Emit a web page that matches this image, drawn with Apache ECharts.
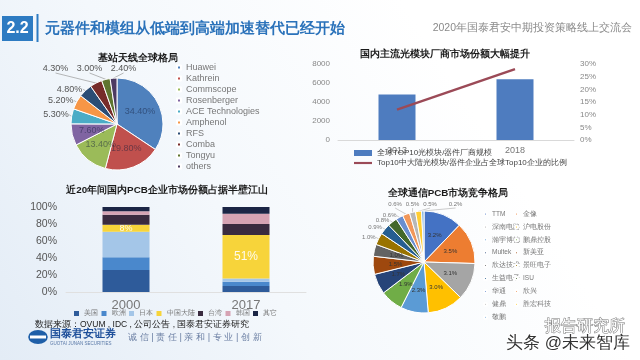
<!DOCTYPE html>
<html><head><meta charset="utf-8">
<script src="https://cdn.jsdelivr.net/npm/echarts@6/dist/echarts.min.js"></script>
<style>html,body{margin:0;padding:0;background:#fff}#c{width:640px;height:360px}</style>
</head><body><div id="c"></div>
<script>
// ---- Chart 1: 基站天线全球格局 ----
const antennaVendors = ['Huawei','Kathrein','Commscope','Rosenberger','ACE Technologies','Amphenol','RFS','Comba','Tongyu','others'];
const antennaShare = [34.4,19.8,13.4,7.6,5.3,5.2,4.8,4.3,3.0,2.4];
// ---- Chart 2: 国内主流光模块厂商市场份额大幅提升 ----
const moduleYears = ['2013','2018'];
const moduleScale = [4800, 6400];
const mainlandRatio = [0.12, 0.28];
// ---- Chart 3: 近20年间国内PCB企业市场份额占据半壁江山 ----
const pcbYears = ['2000','2017'];
const pcbRegions = ['美国','欧洲','日本','中国大陆','台湾','韩国','其它'];
const pcbShare2000 = [26,15,30,8,12,4,5];
const pcbShare2017 = [7,5,4,51,13,12,8];
// ---- Chart 4: 全球通信PCB市场竞争格局 ----
const commPcbCompanies = ['TTM','金像','深南电路','沪电股份','瀚宇博德','鹏鼎控股','Multek','新美亚','欣达技术','景旺电子','生益电子','ISU','华通','欣兴','健鼎','胜宏科技','敬鹏'];
const commPcbShare = [3.2,3.5,3.1,3.0,2.3,1.9,1.7,1.5,1.0,1.0,0.9,0.8,0.6,0.6,0.5,0.5,0.2];

const antennaColors = ['#4F81BD','#C0504D','#9BBB59','#8064A2','#4BACC6','#F79646','#2C4D75','#772C2A','#5F7530','#4D3B62'];
const officeColors = ['#4472C4','#ED7D31','#A5A5A5','#FFC000','#5B9BD5','#70AD47','#264478','#9E480E','#636363','#997300','#255E91','#43682B','#698ED0','#F1975A','#B7B7B7','#FFCD33','#7CAFDD'];
const pcbRegionColors = ['#2E5B9A','#4A88CC','#A4C6E8','#F7D43A','#3A2B3F','#D6A3B3','#1B2545'];

const PIE1 = {cx:117, cy:124, r:46};
const PIE4 = {cx:424, cy:262, r:51};

// label placement for outside pie labels, derived from each slice's mid angle
function pieOuterLayout(P, values, sideList, topList, rowY, topX) {
  const total = values.reduce((a,b)=>a+b,0);
  const pts = []; let acc = 0;
  values.forEach(v=>{
    const a = (acc + v/2)/total*2*Math.PI; acc += v;
    pts.push([P.cx + P.r*Math.sin(a), P.cy - P.r*Math.cos(a)]);
  });
  const topXs = topList.map(i=>pts[i][0]);
  return function(p){
    const i = p.dataIndex, pt = pts[i];
    if (sideList.indexOf(i) >= 0) {
      return {x:pt[0]-3, y:pt[1]-1.5, align:'right', verticalAlign:'middle',
        labelLinePoints:[[pt[0],pt[1]],[pt[0]-1.5,pt[1]-0.8],[pt[0]-2.5,pt[1]-1.5]]};
    }
    const k = topList.indexOf(i);
    if (k >= 0) {
      const x = topX(k, topXs);
      return {x:x, y:rowY, align:'center', verticalAlign:'middle',
        labelLinePoints:[[pt[0],pt[1]],[x,rowY+4],[x,rowY+4]]};
    }
  };
}

const chart = echarts.init(document.getElementById('c'));

const antennaData = antennaVendors.map((n,i)=>({
  name:n, value:antennaShare[i],
  itemStyle:{color:antennaColors[i]},
  label: i<4 ? {position:'inside', color:'rgba(20,30,60,0.5)', fontSize:9} : {position:'outside', color:'#555', fontSize:9},
  labelLine:{show:i>=4}
}));
const commData = commPcbCompanies.map((n,i)=>({
  name:n, value:commPcbShare[i],
  itemStyle:{color:officeColors[i]},
  label: i<9 ? {position:'inside', color:'#333', fontSize:6} : {position:'outside', color:'#777', fontSize:6},
  labelLine:{show:i>=9}
}));
const ratioData = mainlandRatio.map((v,i)=>({
  value:v,
  label: i===0 ? {position:'inside', color:'#fff', fontSize:9} : {position:'right', color:'#555', fontSize:9, offset:[2,0]}
}));
const pcbSeries = pcbRegions.map((r,i)=>({
  name:r, type:'bar', stack:'pcb', xAxisIndex:1, yAxisIndex:2,
  barWidth:47,
  itemStyle:{color:pcbRegionColors[i]},
  data:[pcbShare2000[i], pcbShare2017[i]].map((v,j)=>({
    value:v,
    label: r==='中国大陆' ? {show:true, position:'inside', color:'rgba(255,255,255,0.9)', fontSize: j===0?9:12, formatter:'{c}%'} : {show:false}
  }))
}));

const titleStyle = {fontSize:9.8, fontWeight:'bold', color:'#1a1a1a'};
const grayLegend = names => names.map(n=>({name:n, textStyle:{color:'#777'}}));

chart.setOption({
  animation:false,
  backgroundColor:'#fff',
  title:[
    {text:'基站天线全球格局', left:138, top:53, padding:0, textAlign:'center', textStyle:titleStyle},
    {text:'国内主流光模块厂商市场份额大幅提升', left:445, top:49, padding:0, textAlign:'center', textStyle:titleStyle},
    {text:'近20年间国内PCB企业市场份额占据半壁江山', left:167, top:185, padding:0, textAlign:'center', textStyle:titleStyle},
    {text:'全球通信PCB市场竞争格局', left:448, top:188, padding:0, textAlign:'center', textStyle:titleStyle}
  ],
  legend:[
    {data:grayLegend(antennaVendors), orient:'vertical', left:176, top:63, padding:0, itemWidth:4, itemHeight:4, itemGap:2, icon:'rect',
     textStyle:{fontSize:9, color:'#777'}},
    {data:[{name:'全球TOP10光模块/器件厂商规模', icon:'rect'},
           {name:'Top10中大陆光模块/器件企业占全球Top10企业的比例', icon:'path://M0,0H20V2.4H0Z'}],
     orient:'vertical', left:354, top:149, padding:0,
     itemWidth:18, itemHeight:6, itemGap:2, textStyle:{fontSize:8, color:'#444'}},
    {data:grayLegend(pcbRegions), left:74, top:310, padding:0, itemWidth:5, itemHeight:5, itemGap:3.5, icon:'rect', textStyle:{fontSize:7, color:'#666'}},
    {data:grayLegend(commPcbCompanies.filter((n,i)=>i%2===0)), orient:'vertical', left:483, top:210.5, padding:0, itemWidth:3, itemHeight:3, itemGap:5.9, icon:'circle',
     textStyle:{fontSize:6.5, color:'#888'}},
    {data:grayLegend(commPcbCompanies.filter((n,i)=>i%2===1)), orient:'vertical', left:514, top:210.5, padding:0, itemWidth:3, itemHeight:3, itemGap:5.9, icon:'circle',
     textStyle:{fontSize:6.5, color:'#888'}}
  ],
  grid:[
    {left:338, width:236, top:64, height:76},
    {left:66, width:240, top:207, height:85}
  ],
  xAxis:[
    {gridIndex:0, type:'category', data:moduleYears, axisTick:{show:false},
     axisLine:{lineStyle:{color:'#d9d9d9'}}, axisLabel:{fontSize:9, color:'#777', margin:6}},
    {gridIndex:1, type:'category', data:pcbYears, axisTick:{show:false},
     axisLine:{lineStyle:{color:'#e0e0e0'}}, axisLabel:{fontSize:13, color:'#777', margin:7}}
  ],
  yAxis:[
    {gridIndex:0, type:'value', min:0, max:8000, interval:2000, splitLine:{show:false},
     axisLine:{show:false}, axisTick:{show:false}, axisLabel:{fontSize:8, color:'#888', margin:8, formatter:v=>String(v)}},
    {gridIndex:0, type:'value', min:0, max:0.3, interval:0.05, position:'right', splitLine:{show:false},
     axisLine:{show:false}, axisTick:{show:false},
     axisLabel:{fontSize:8, color:'#888', margin:6, formatter:v=>Math.round(v*100)+'%'}},
    {gridIndex:1, type:'value', min:0, max:100, interval:20, splitLine:{show:false},
     axisLine:{show:false}, axisTick:{show:false},
     axisLabel:{fontSize:10.5, color:'#555', margin:9, formatter:'{value}%'}}
  ],
  series:[
    {name:'基站天线', type:'pie', center:[PIE1.cx,PIE1.cy], radius:PIE1.r, startAngle:90, clockwise:true,
     data:antennaData, itemStyle:{borderColor:'#fff', borderWidth:1},
     label:{formatter:p=>p.value.toFixed(2)+'%'},
     labelLine:{length:6, length2:8, lineStyle:{color:'#999', width:0.7}},
     labelLayout: pieOuterLayout(PIE1, antennaShare, [4,5,6], [7,8,9], 69,
        (k,xs)=>xs[xs.length-1] + 10 - (xs.length-1-k)*34)},
    {name:'全球TOP10光模块/器件厂商规模', type:'bar', xAxisIndex:0, yAxisIndex:0, barWidth:37,
     itemStyle:{color:'#4E7CBF'}, data:moduleScale},
    {name:'Top10中大陆光模块/器件企业占全球Top10企业的比例', type:'line', xAxisIndex:0, yAxisIndex:1,
     symbol:'none', lineStyle:{color:'#9B4A57', width:2.5}, itemStyle:{color:'#9B4A57'},
     label:{show:true, formatter:p=>Math.round(p.value*100)+'%'}, data:ratioData, z:5},
    ...pcbSeries,
    {name:'通信PCB', type:'pie', center:[PIE4.cx,PIE4.cy], radius:PIE4.r, startAngle:90, clockwise:true,
     data:commData, itemStyle:{borderColor:'#fff', borderWidth:1},
     label:{formatter:p=>p.value.toFixed(1)+'%'},
     labelLine:{length:6, length2:6, lineStyle:{color:'#aaa', width:0.6}},
     labelLayout: pieOuterLayout(PIE4, commPcbShare, [9,10,11,12], [13,14,15,16], 204,
        (k,xs)=>xs[0] - 11 + k*17.5 + (k===xs.length-1 ? 8 : 0))}
  ],
  graphic:[
    {type:'rect', z:-100, silent:true, shape:{x:0,y:0,width:640,height:360},
     style:{fill:new echarts.graphic.LinearGradient(0,1,0.7,0.2,[{offset:0,color:'#e3ecf6'},{offset:0.5,color:'#f4f8fc'},{offset:1,color:'#ffffff'}])}},
    {type:'rect', shape:{x:2,y:16,width:31,height:25}, style:{fill:'#2D7BC2'}},
    {type:'text', style:{text:'2.2', x:17.5, y:28.5, textAlign:'center', textVerticalAlign:'middle', fill:'#fff', fontSize:16, fontWeight:'bold'}},
    {type:'rect', shape:{x:36.5,y:14,width:2,height:28}, style:{fill:'#2D7BC2'}},
    {type:'text', style:{text:'元器件和模组从低端到高端加速替代已经开始', x:45, y:28.5, textVerticalAlign:'middle', fill:'#2A72BA', fontSize:14.6, fontWeight:'bold'}},
    {type:'text', style:{text:'2020年国泰君安中期投资策略线上交流会', x:632, y:28, textAlign:'right', textVerticalAlign:'middle', fill:'#8a8a8a', fontSize:10.5}},
    {type:'text', style:{text:'数据来源：OVUM , IDC , 公司公告 , 国泰君安证券研究', x:35, y:325, textVerticalAlign:'middle', fill:'#222', fontSize:8.5}},
    {type:'circle', shape:{cx:38, cy:337, r:7}, scaleX:1.4, originX:38, originY:337, style:{fill:'#1F5FA8'}},
    {type:'rect', shape:{x:30,y:335.5,width:16,height:3}, style:{fill:'#fff'}},
    {type:'text', style:{text:'国泰君安证券', x:50, y:334, textVerticalAlign:'middle', fill:'#1E4F9A', fontSize:10.5, fontWeight:'bold'}},
    {type:'text', style:{text:'GUOTAI JUNAN SECURITIES', x:50, y:343.5, textVerticalAlign:'middle', fill:'#5a79a8', fontSize:4.5}},
    {type:'text', style:{text:'诚 信 | 责 任 | 亲 和 | 专 业 | 创 新', x:128, y:337, textVerticalAlign:'middle', fill:'#6b7fa3', fontSize:9.4}},
    {type:'text', style:{text:'报告研究所', x:625, y:327, textAlign:'right', textVerticalAlign:'middle', fill:'#fff', stroke:'#777', lineWidth:1, fontSize:16}},
    {type:'text', style:{text:'头条 @未来智库', x:630, y:343, textAlign:'right', textVerticalAlign:'middle', fill:'#333', stroke:'#fff', lineWidth:2, fontSize:17}}
  ]
});
</script></body></html>
